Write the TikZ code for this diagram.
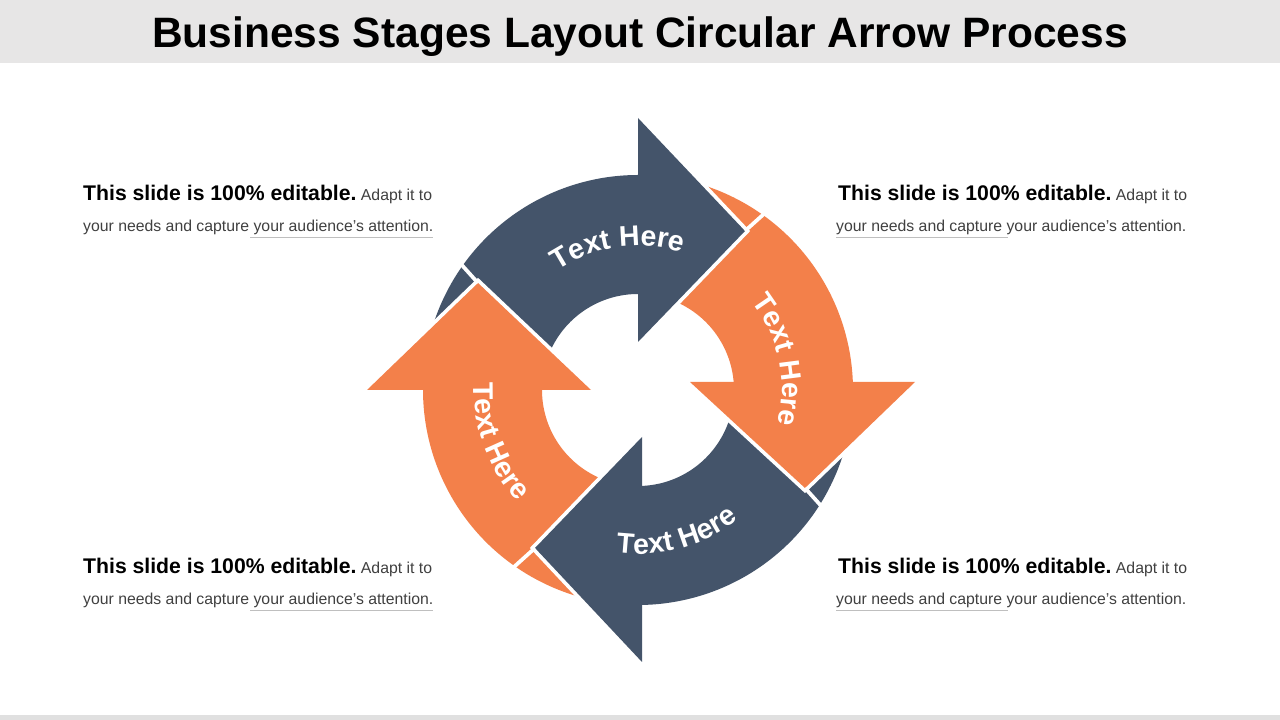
\documentclass[tikz,border=0pt]{standalone}
\usepackage{fontspec}
\setmainfont{Liberation Sans}
\usetikzlibrary{decorations.text}
\definecolor{darkslate}{RGB}{68,84,106}
\definecolor{arroworange}{RGB}{243,128,74}
\definecolor{titlegray}{RGB}{231,230,230}
\definecolor{textgray}{RGB}{64,64,64}
\definecolor{ulgray}{RGB}{191,191,191}
\definecolor{bandgray}{RGB}{224,224,224}
\newcommand{\leadline}{{\fontsize{21.2}{25}\selectfont\bfseries This slide is 100\% editable.}\fontsize{15.8}{19}\selectfont\color{textgray}\ Adapt it to}
\begin{document}
\begin{tikzpicture}[x=1pt,y=1pt,
  headgap/.style={white,line width=7.5pt,line join=miter},
  sepline/.style={white,line width=3.75pt},
  ringtext/.style={decorate,decoration={text along path,text color=white,text align=center,
     text={|\fontsize{28.5}{30}\selectfont\bfseries|Text Here}}},
  bodytext/.style={anchor=base west,inner sep=0pt},
  secondline/.style={anchor=base west,inner sep=0pt,text=textgray,font=\fontsize{15.8}{19}\selectfont},
  uline/.style={ulgray,line width=0.8pt}]
\useasboundingbox (0,0) rectangle (1280,720);
\fill[white] (0,0) rectangle (1280,720);
\fill[titlegray] (0,657) rectangle (1280,720);
\fill[bandgray] (0,0) rectangle (1280,5);
\node[anchor=base,inner sep=0pt,font=\fontsize{42.5}{50}\selectfont\bfseries] (title) at (640,672) {Business Stages Layout Circular Arrow Process};

\begin{scope}[shift={(638,330)}]
  % bodies (quarter rings)
  \fill[darkslate] (88:96) arc[start angle=88,end angle=180,radius=96] -- (180:215) arc[start angle=180,end angle=88,radius=215] -- cycle;
  \fill[arroworange] (-2:96) arc[start angle=-2,end angle=90,radius=96] -- (90:215) arc[start angle=90,end angle=-2,radius=215] -- cycle;
  \fill[darkslate] (268:96) arc[start angle=268,end angle=360,radius=96] -- (360:215) arc[start angle=360,end angle=268,radius=215] -- cycle;
  \fill[arroworange] (178:96) arc[start angle=178,end angle=270,radius=96] -- (270:215) arc[start angle=270,end angle=178,radius=215] -- cycle;
  % heads
  \coordinate (tA) at (0,272);   \coordinate (tT) at (107,159);  \coordinate (tB) at (0,48);
  \coordinate (rA) at (277,8);   \coordinate (rT) at (167,-98);  \coordinate (rB) at (52,8);
  \coordinate (bA) at (4,-272);  \coordinate (bT) at (-103,-158); \coordinate (bB) at (4,-47);
  \coordinate (lA) at (-271,0);  \coordinate (lT) at (-160,107); \coordinate (lB) at (-47,0);
  \draw[headgap] (tA) -- (tT) -- (tB);
  \fill[darkslate] (tA) -- (tT) -- (tB) -- cycle;
  \draw[sepline] (tT) -- ++(42:40);
  \draw[headgap] (rA) -- (rT) -- (rB);
  \fill[arroworange] (rA) -- (rT) -- (rB) -- cycle;
  \draw[sepline] (rT) -- ++(-48:40);
  \draw[headgap] (bA) -- (bT) -- (bB);
  \fill[darkslate] (bA) -- (bT) -- (bB) -- cycle;
  \draw[sepline] (bT) -- ++(222:40);
  \draw[headgap] (lA) -- (lT) -- (lB);
  \fill[arroworange] (lA) -- (lT) -- (lB) -- cycle;
  \draw[sepline] (lT) -- ++(132:40);
  % curved labels
  \path[ringtext] (129:144) arc[start angle=129,end angle=67,radius=144];
  \path[ringtext] (42:144) arc[start angle=42,end angle=-18,radius=144];
  \path[ringtext] (255:164) arc[start angle=255,end angle=315,radius=164];
  \path[ringtext] (170:164) arc[start angle=170,end angle=230,radius=164];
\end{scope}

% text blocks
\node[bodytext] (tl1) at (83,519) {\leadline};
\node[secondline] (tl2) at (83,488) {your needs and capture your audience’s attention.};
\draw[uline] (250,483) -- (433,483);

\node[bodytext] (tr1) at (838,519) {\leadline};
\node[secondline] (tr2) at (836,488) {your needs and capture your audience’s attention.};
\draw[uline] (836,483) -- (1008,483);

\node[bodytext] (bl1) at (83,146) {\leadline};
\node[secondline] (bl2) at (83,115) {your needs and capture your audience’s attention.};
\draw[uline] (250,110) -- (433,110);

\node[bodytext] (br1) at (838,146) {\leadline};
\node[secondline] (br2) at (836,115) {your needs and capture your audience’s attention.};
\draw[uline] (836,110) -- (1008,110);
\end{tikzpicture}
\end{document}
